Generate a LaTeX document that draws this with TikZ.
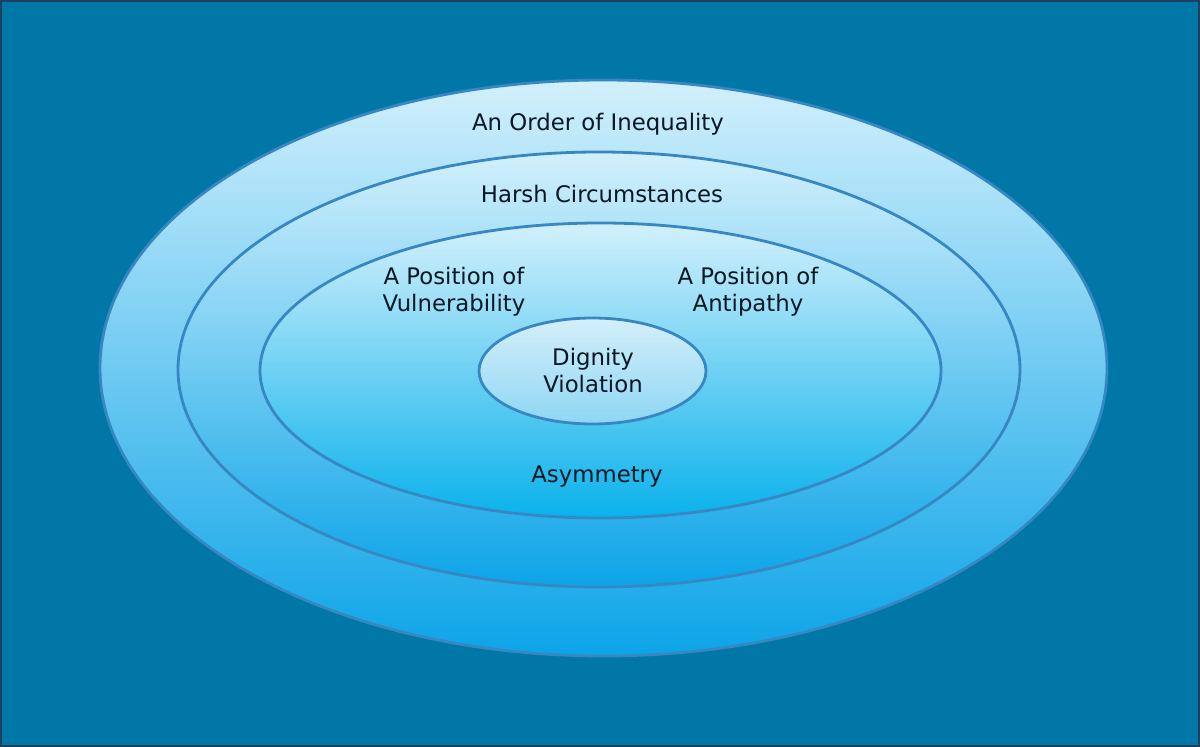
\documentclass[tikz,border=0pt]{standalone}
\usepackage{fontspec}
\setmainfont{DejaVu Sans}
\usepackage{tikz}
\usetikzlibrary{positioning}
\usepackage{xcolor}
\definecolor{bgblue}{HTML}{0077A6}
\definecolor{frameblue}{HTML}{1E3F5E}
\definecolor{ringline}{HTML}{3787C2}
\definecolor{ringtop}{HTML}{D2F0FC}
\definecolor{ringmid}{HTML}{6CCBF2}
\definecolor{ringbot}{HTML}{0CA4E8}
\definecolor{coretop}{HTML}{D4EFFA}
\definecolor{corebot}{HTML}{8ED6F4}
\definecolor{labelink}{HTML}{0A1724}

\begin{document}
\begin{tikzpicture}[x=1pt, y=1pt,
  ring/.style={draw=ringline, line width=2.8pt, top color=ringtop, middle color=ringmid, bottom color=ringbot},
  core/.style={draw=ringline, line width=2.8pt, top color=coretop, bottom color=corebot},
  lbl/.style={text=labelink, align=center, font=\fontsize{22.8}{27}\selectfont}]
\useasboundingbox (0, 0) rectangle (1200, 747);
\fill[bgblue] (0, 0) rectangle (1200, 747);
\draw[frameblue, line width=2pt] (1, 1) rectangle (1199, 746);
\shade[ring] (603.5, 379) ellipse (503.5 and 288);
\shade[ring] (599, 377.5) ellipse (421 and 217.5);
\shade[ring, middle color=ringmid!80!cyan, bottom color=ringbot!85!cyan] (600.5, 376.5) ellipse (340.5 and 147.5);
\shade[core] (592.5, 376) ellipse (113.5 and 53);
\node[lbl] (order) at (598, 623) {An Order of Inequality};
\node[lbl] (harsh) at (602, 553) {Harsh Circumstances};
\node[lbl] (vuln) at (454, 455) {A Position of\\Vulnerability};
\node[lbl] (anti) at (748, 455) {A Position of\\Antipathy};
\node[lbl] (dignity) at (593, 376) {Dignity\\Violation};
\node[lbl] (asym) at (597, 270) {Asymmetry};
\end{tikzpicture}
\end{document}
